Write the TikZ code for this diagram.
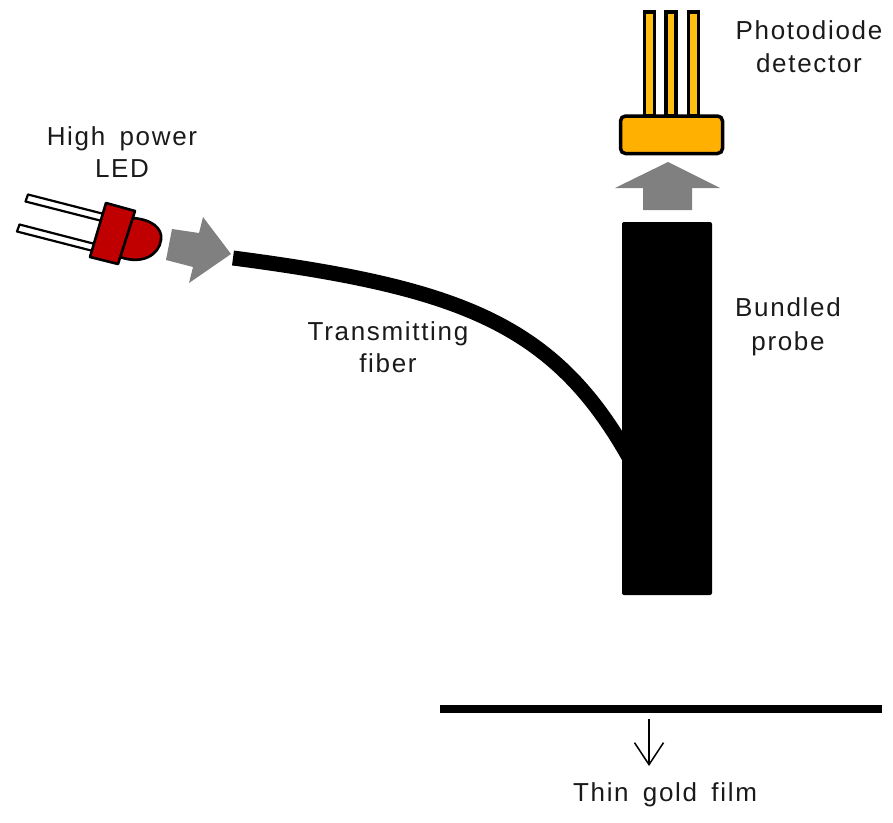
\documentclass[tikz,border=0pt]{standalone}
\usepackage{fontspec}
\setmainfont{Liberation Sans}[LetterSpace=6.5,WordSpace=1.6]
\definecolor{ledred}{HTML}{C00000}
\definecolor{gold}{HTML}{FFB000}
\definecolor{pingold}{HTML}{FFBE10}
\definecolor{arrowgray}{HTML}{808080}
\definecolor{labeltext}{HTML}{1A1A1A}
\usetikzlibrary{arrows.meta}
\tikzset{
  label text/.style={align=center,text=labeltext,inner sep=0pt,font=\fontsize{26}{32.5}\selectfont},
  beam/.style={fill=arrowgray,draw=none},
  led part/.style={fill=ledred,draw=black,line width=2.6pt,line join=round},
  led leg/.style={fill=white,draw=black,line width=2.2pt,line join=round},
  pin/.style={fill=pingold,draw=black,line width=3.5pt},
  can/.style={fill=gold,draw=black,line width=3.5pt,rounded corners=5pt},
}
\begin{document}
\begin{tikzpicture}[x=1pt,y=-1pt]
\useasboundingbox (0,0) rectangle (893,822);

% LED
\draw [led leg] (28,194.5) -- (104,214) -- (102,221) -- (25.5,201.5) -- cycle;
\draw [led leg] (19.5,224.5) -- (95,244) -- (93,251) -- (17,231.5) -- cycle;
\draw [led part] (132,218) .. controls (151,219) and (163,228) .. (161,240)
  .. controls (159,255) and (142,265) .. (120,257) -- cycle;
\draw [led part] (106,203) -- (135,211) -- (118,264) -- (90,257) -- cycle;

% beam into the fiber
\fill [beam] (172,229) -- (199,233) -- (203,217) -- (231,254) -- (189,283)
  -- (193,267) -- (166,260) -- cycle;

% fiber, probe
\draw [line width=15pt] (233,258) .. controls (463,288) and (555,325) .. (630,459);
\fill [rounded corners=2pt] (622,222) rectangle (712,595);

% detector
\foreach \x in {649.5,671,693.5} {
  \draw [pin] (\x-5,12) rectangle (\x+5,116);
}
\draw [can] (620.5,116) rectangle (722.5,153.5);
\fill [beam] (668,162) -- (720,188) -- (692,188) -- (692,210) -- (643,210)
  -- (643,188) -- (615,188) -- cycle;

% film
\fill (439.5,705) rectangle (882,713);
\coordinate (filmtop) at (649,719);
\coordinate (filmend) at (649,766);
\draw [line width=1.5pt,-{Straight Barb[length=22pt,width=29pt]}] (filmtop) -- (filmend);

% labels
\node [label text] (led) at (122,152) {High power\\LED};
\node [label text] (det) at (809,46.5) {Photodiode\\detector};
\node [label text] (probe) at (788,326.5) {Bundled\\[1.5pt]probe};
\node [label text] (fiber) at (388,347) {Transmitting\\fiber};
\node [label text] (film) at (665,795) {Thin gold film};
\end{tikzpicture}
\end{document}
